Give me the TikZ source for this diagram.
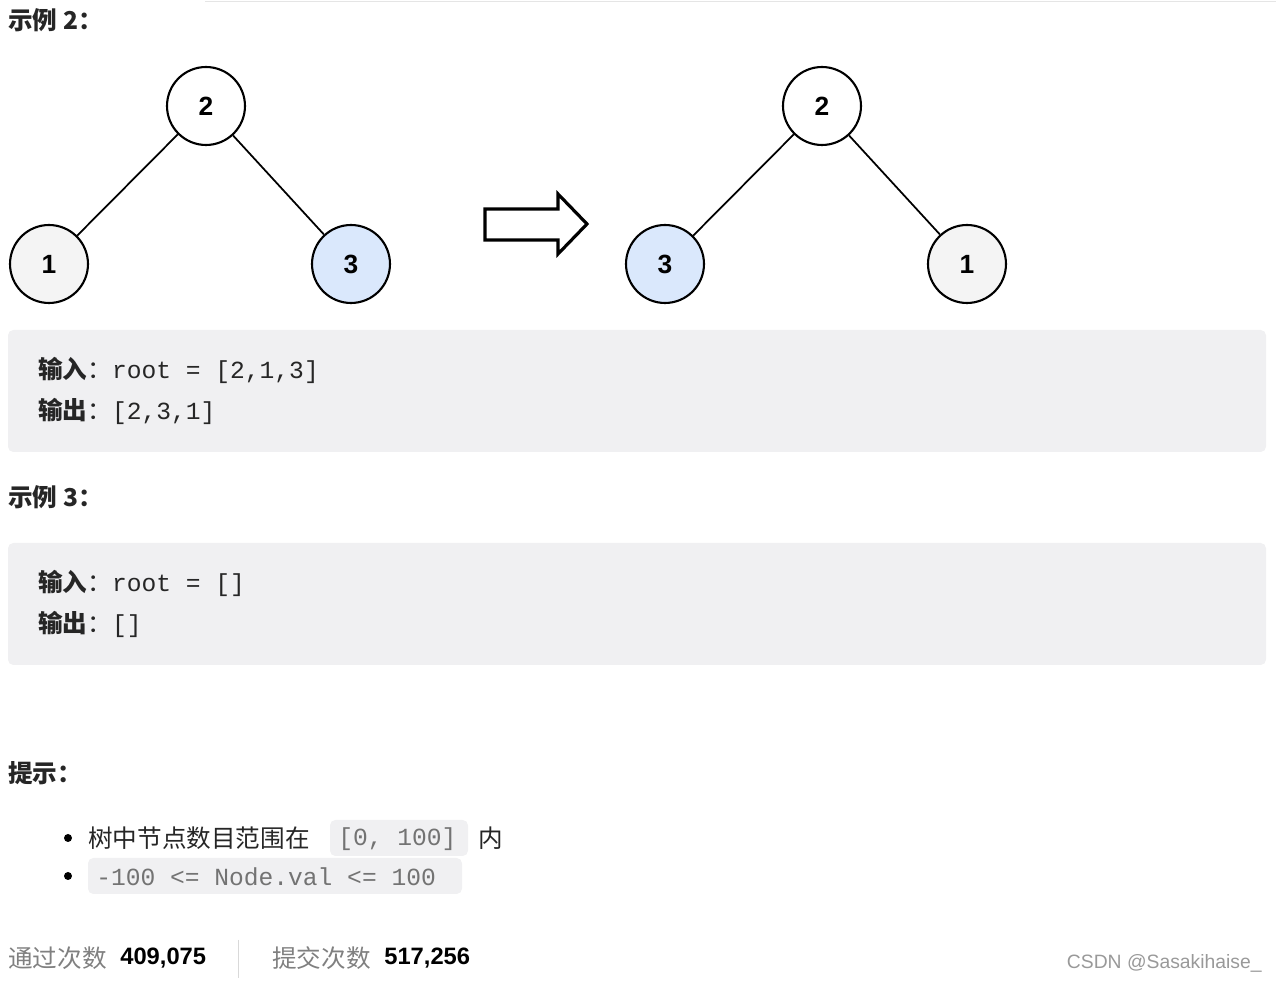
\documentclass[tikz,border=0pt]{standalone}
\usepackage{fontspec}
\setmainfont{Noto Sans CJK SC}
\setmonofont{Liberation Mono}
\setsansfont{Liberation Sans}
\usetikzlibrary{positioning}
\definecolor{codebg}{HTML}{F0F0F2}
\definecolor{leafgray}{HTML}{F4F4F4}
\definecolor{leafblue}{HTML}{DAE8FC}
\definecolor{txt}{HTML}{262626}
\tikzset{
  tnode/.style={circle, draw, line width=1.2pt, minimum size=1.56cm, inner sep=0pt, font=\sffamily\bfseries\fontsize{15}{18}\selectfont},
  edge/.style={line width=1pt},
  txtl/.style={anchor=west, inner sep=0pt, text=txt, font=\fontsize{14}{17}\selectfont},
  code/.style={anchor=west, inner sep=0pt, text=txt, font=\ttfamily\fontsize{14}{17}\selectfont},
  codebox/.style={fill=codebg, rounded corners=3pt, draw=none},
  stat/.style={anchor=west, inner sep=0pt, text=gray, font=\fontsize{14}{17}\selectfont}
}
\begin{document}
\begin{tikzpicture}[x=0.02cm, y=-0.02cm]
\useasboundingbox (0,0) rectangle (1276,982);
\draw[black!10] (205,1) -- (1276,1);
\node[txtl, font=\bfseries\fontsize{14}{17}\selectfont] (ex2) at (8,20) {示例 2：};

% left tree
\node[tnode] (a2) at (206,106) {2};
\node[tnode, fill=leafgray] (a1) at (49,264) {1};
\node[tnode, fill=leafblue] (a3) at (351,264) {3};
\draw[edge] (a2) -- (a1);
\draw[edge] (a2) -- (a3);

% hollow arrow
\draw[line width=1.8pt, line join=miter] (485,209) -- (558,209) -- (558,194) -- (587,224)
  -- (558,254) -- (558,240) -- (485,240) -- cycle;

% right tree
\node[tnode] (b2) at (822,106) {2};
\node[tnode, fill=leafblue] (b3) at (665,264) {3};
\node[tnode, fill=leafgray] (b1) at (967,264) {1};
\draw[edge] (b2) -- (b3);
\draw[edge] (b2) -- (b1);

\fill[codebox] (8,330) rectangle (1266,452);
\node[txtl] (in2) at (38,370) {\textbf{输入}：\texttt{root = [2,1,3]}};
\node[txtl] (out2) at (38,411) {\textbf{输出}：\texttt{[2,3,1]}};

\node[txtl, font=\bfseries\fontsize{14}{17}\selectfont] (ex3) at (8,497) {示例 3：};
\fill[codebox] (8,543) rectangle (1266,665);
\node[txtl] (in3) at (38,583) {\textbf{输入}：\texttt{root = []}};
\node[txtl] (out3) at (38,624) {\textbf{输出}：\texttt{[]}};

\node[txtl, font=\bfseries\fontsize{14}{17}\selectfont] (tip) at (8,773) {提示：};
\fill (68,838) circle (4);
\fill (68,876) circle (4);
\node[txtl] (t1) at (88,838) {树中节点数目范围在};
\fill[codebox] (330,820) rectangle (468,856);
\node[code, text=gray!90!black] (c1) at (338,839) {[0, 100]};
\node[txtl] (t2) at (478,838) {内};
\fill[codebox] (88,858) rectangle (462,894);
\node[code, text=gray!90!black] (c2) at (96,877) {-100 <= Node.val <= 100};

\node[stat] (s1) at (8,958) {通过次数};
\node[anchor=west, inner sep=0pt, font=\sffamily\bfseries\fontsize{13.5}{17}\selectfont] (n1) at (120,958) {409,075};
\draw[black!15] (238,940) -- (238,978);
\node[stat] (s2) at (272,958) {提交次数};
\node[anchor=west, inner sep=0pt, font=\sffamily\bfseries\fontsize{13.5}{17}\selectfont] (n2) at (384,958) {517,256};
\node[anchor=east, inner sep=0pt, text=gray!80, font=\sffamily\fontsize{11}{13}\selectfont] (csdn) at (1262,963) {CSDN @Sasakihaise\_};
\end{tikzpicture}
\end{document}
